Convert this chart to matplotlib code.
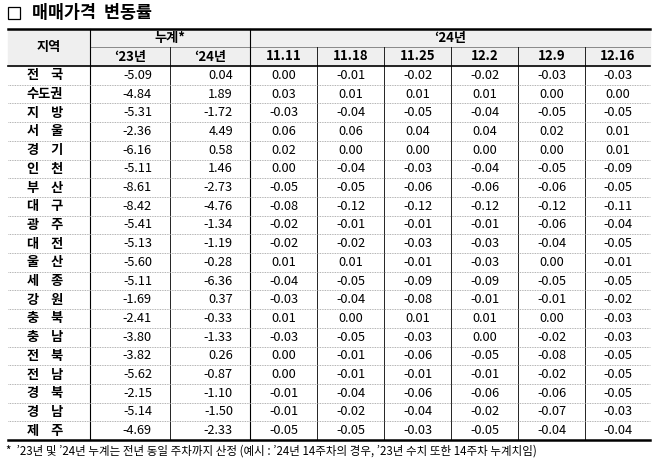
import matplotlib
matplotlib.use("Agg")
import matplotlib.pyplot as plt
plt.rcParams['font.family'] = ['Noto Sans CJK KR', 'DejaVu Sans']

regions = ["전    국","수도권","지    방","서    울","경    기","인    천","부    산","대    구","광    주","대    전",
           "울    산","세    종","강    원","충    북","충    남","전    북","전    남","경    북","경    남","제    주"]
cum23 = [-5.09,-4.84,-5.31,-2.36,-6.16,-5.11,-8.61,-8.42,-5.41,-5.13,-5.60,-5.11,-1.69,-2.41,-3.80,-3.82,-5.62,-2.15,-5.14,-4.69]
cum24 = [0.04,1.89,-1.72,4.49,0.58,1.46,-2.73,-4.76,-1.34,-1.19,-0.28,-6.36,0.37,-0.33,-1.33,0.26,-0.87,-1.10,-1.50,-2.33]
weeks = ["11.11","11.18","11.25","12.2","12.9","12.16"]
weekly = [
 [0.00,-0.01,-0.02,-0.02,-0.03,-0.03],
 [0.03,0.01,0.01,0.01,0.00,0.00],
 [-0.03,-0.04,-0.05,-0.04,-0.05,-0.05],
 [0.06,0.06,0.04,0.04,0.02,0.01],
 [0.02,0.00,0.00,0.00,0.00,0.01],
 [0.00,-0.04,-0.03,-0.04,-0.05,-0.09],
 [-0.05,-0.05,-0.06,-0.06,-0.06,-0.05],
 [-0.08,-0.12,-0.12,-0.12,-0.12,-0.11],
 [-0.02,-0.01,-0.01,-0.01,-0.06,-0.04],
 [-0.02,-0.02,-0.03,-0.03,-0.04,-0.05],
 [0.01,0.01,-0.01,-0.03,0.00,-0.01],
 [-0.04,-0.05,-0.09,-0.09,-0.05,-0.05],
 [-0.03,-0.04,-0.08,-0.01,-0.01,-0.02],
 [0.01,0.00,0.01,0.01,0.00,-0.03],
 [-0.03,-0.05,-0.03,0.00,-0.02,-0.03],
 [0.00,-0.01,-0.06,-0.05,-0.08,-0.05],
 [0.00,-0.01,-0.01,-0.01,-0.02,-0.05],
 [-0.01,-0.04,-0.06,-0.06,-0.06,-0.05],
 [-0.01,-0.02,-0.04,-0.02,-0.07,-0.03],
 [-0.05,-0.05,-0.03,-0.05,-0.04,-0.04],
]

W, H = 658, 458
fig = plt.figure(figsize=(W/100, H/100), dpi=100)
ax = fig.add_axes([0,0,1,1]); ax.set_xlim(0,W); ax.set_ylim(H,0); ax.axis('off')

xs = [8, 90, 170, 250, 317, 384, 451, 518, 585, 650]
top, h1, h2 = 29, 47, 66
bot = 440
n = len(regions)
rh = (bot - h2)/n

ax.add_patch(plt.Rectangle((xs[0], top), xs[-1]-xs[0], h2-top, color='#efefef', zorder=0))
fs = 9.2
ax.add_patch(plt.Rectangle((8, 7), 12, 12, fill=False, ec='k', lw=0.9))
ax.text(32, 13, "매매가격  변동률", fontsize=12.5, fontweight='bold', va='center', ha='left')
ax.plot([xs[0], xs[-1]], [top, top], color='k', lw=1.8)
ax.plot([xs[0], xs[-1]], [bot, bot], color='k', lw=1.8)
ax.plot([xs[1], xs[-1]], [h1, h1], color='#888', lw=0.7)
ax.plot([xs[0], xs[-1]], [h2, h2], color='k', lw=1.2)
for i, x in enumerate(xs[1:-1], 1):
    y0 = h1 if i in (2, 4, 5, 6, 7, 8) else top
    ax.plot([x, x], [y0, bot], color='k', lw=0.8 if i in (1, 3) else 0.6)
hfs = fs + 0.3
ax.text((xs[0]+xs[1])/2, (top+h2)/2, "지역", fontsize=hfs, fontweight='bold', ha='center', va='center')
ax.text((xs[1]+xs[3])/2, (top+h1)/2, "누계*", fontsize=hfs, fontweight='bold', ha='center', va='center')
ax.text((xs[3]+xs[-1])/2, (top+h1)/2, "‘24년", fontsize=hfs, fontweight='bold', ha='center', va='center')
ax.text((xs[1]+xs[2])/2, (h1+h2)/2, "‘23년", fontsize=hfs, fontweight='bold', ha='center', va='center')
ax.text((xs[2]+xs[3])/2, (h1+h2)/2, "‘24년", fontsize=hfs, fontweight='bold', ha='center', va='center')
for j, wk in enumerate(weeks):
    ax.text((xs[3+j]+xs[4+j])/2, (h1+h2)/2, wk, fontsize=hfs, fontweight='bold', ha='center', va='center')

for i in range(n):
    yc = h2 + rh*(i+0.5)
    if i > 0:
        ax.plot([xs[0], xs[-1]], [h2+rh*i]*2, color='#999', lw=0.6, ls=(0, (1, 1)))
    ax.text((xs[0]+xs[1])/2 - 4, yc, regions[i], fontsize=hfs, fontweight='bold', ha='center', va='center')
    ax.text(152, yc, f"{cum23[i]:.2f}", fontsize=fs, ha='right', va='center')
    ax.text(233, yc, f"{cum24[i]:.2f}", fontsize=fs, ha='right', va='center')
    for j in range(6):
        ax.text((xs[3+j]+xs[4+j])/2, yc, f"{weekly[i][j]:.2f}", fontsize=fs, ha='center', va='center')

ax.text(6, 451, "*  ’23년 및 ’24년 누계는 전년 동일 주차까지 산정 (예시 : ’24년 14주차의 경우, ’23년 수치 또한 14주차 누계치임)",
        fontsize=8.3, ha='left', va='center')
fig.savefig("out.png", dpi=100)
